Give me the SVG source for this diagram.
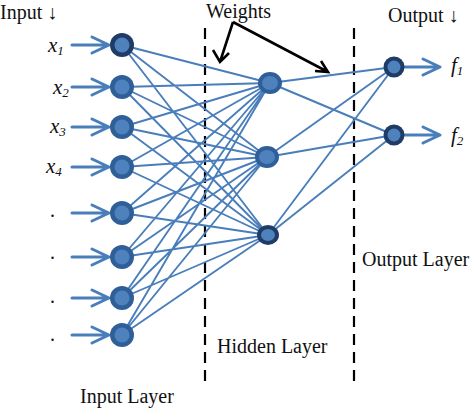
<svg xmlns="http://www.w3.org/2000/svg" width="474" height="408" viewBox="0 0 474 408">
<defs>
<style>
.c{stroke:#4a7ebb;stroke-width:1.9;fill:none}
.a{stroke:#4a7ebb;stroke-width:3;fill:none;stroke-linecap:round;stroke-linejoin:round}
.d{stroke:#000;stroke-width:2.2;stroke-dasharray:11,7;fill:none}
.w{stroke:#000;stroke-width:2.6;fill:none}
text{font-family:'Liberation Serif','Times New Roman','DejaVu Serif',serif;fill:#111}
.t{font-size:20px}
.v{font-size:21px;font-style:italic}
.s{font-size:13px}
.o{fill:#2f5f98}
.od{fill:#1f3c66}
.i{fill:#4f81bd}
</style>
</defs>
<g id="dividers">
<line class="d" x1="205" y1="28" x2="205" y2="386"/>
<line class="d" x1="354" y1="28" x2="354" y2="386"/>
</g>
<g id="connectors">
<path class="c" d="M122,45L270,83M122,45L267,157M122,45L268,235
M122,87L270,83M122,87L267,157M122,87L268,235
M122,127L270,83M122,127L267,157M122,127L268,235
M122,167L270,83M122,167L267,157M122,167L268,235
M122,213L270,83M122,213L267,157M122,213L268,235
M122,257L270,83M122,257L267,157M122,257L268,235
M122,298L270,83M122,298L267,157M122,298L268,235
M122,335L270,83M122,335L267,157M122,335L268,235
M270,83L394,67M270,83L394,135M267,157L394,67M267,157L394,135M268,235L394,67M268,235L394,135"/>
<path class="a" d="M72,45H109M92,37L109,45L92,53
M72,87H109M92,79L109,87L92,95
M72,127H109M92,119L109,127L92,135
M72,167H109M92,159L109,167L92,175
M72,213H109M92,205L109,213L92,221
M72,257H109M92,249L109,257L92,265
M72,298H109M92,290L109,298L92,306
M72,335H109M92,327L109,335L92,343
M404,67H440M423,59L440,67L423,75
M404,135H440M423,127L440,135L423,143"/>
<path class="w" d="M233,22L220,62M213,50L220,62L229,53M233,22L328,72M315,71L328,72L321,61"/>
</g>
<g id="input1"><circle class="od" cx="122" cy="45" r="12"/><circle class="i" cx="122" cy="45" r="7.5"/></g>
<g id="input2"><circle class="o" cx="122" cy="87" r="12"/><circle class="i" cx="122" cy="87" r="7.5"/></g>
<g id="input3"><circle class="o" cx="122" cy="127" r="12"/><circle class="i" cx="122" cy="127" r="7.5"/></g>
<g id="input4"><circle class="o" cx="122" cy="167" r="12"/><circle class="i" cx="122" cy="167" r="7.5"/></g>
<g id="input5"><circle class="o" cx="122" cy="213" r="12"/><circle class="i" cx="122" cy="213" r="7.5"/></g>
<g id="input6"><circle class="o" cx="122" cy="257" r="12"/><circle class="i" cx="122" cy="257" r="7.5"/></g>
<g id="input7"><circle class="o" cx="122" cy="298" r="12"/><circle class="i" cx="122" cy="298" r="7.5"/></g>
<g id="input8"><circle class="o" cx="122" cy="335" r="12"/><circle class="i" cx="122" cy="335" r="7.5"/></g>
<g id="hidden1"><ellipse class="o" cx="270" cy="83" rx="12" ry="11"/><ellipse class="i" cx="270" cy="83" rx="8" ry="7"/></g>
<g id="hidden2"><ellipse class="o" cx="267" cy="157" rx="12" ry="11"/><ellipse class="i" cx="267" cy="157" rx="8" ry="7"/></g>
<g id="hidden3"><ellipse class="od" cx="268" cy="235" rx="11" ry="10"/><ellipse class="i" cx="268" cy="235" rx="7" ry="6"/></g>
<g id="output1"><circle class="od" cx="394" cy="67" r="10.5"/><circle class="i" cx="394" cy="67" r="6.5"/></g>
<g id="output2"><circle class="od" cx="394" cy="135" r="10.5"/><circle class="i" cx="394" cy="135" r="6.5"/></g>
<g id="labels">
<text class="t" x="0" y="19">Input ↓</text>
<text class="t" x="206" y="18" font-size="19">Weights</text>
<text class="t" x="388" y="22">Output ↓</text>
<text class="t" x="80" y="403">Input Layer</text>
<text class="t" x="217" y="353">Hidden Layer</text>
<text class="t" x="362" y="266">Output Layer</text>
<text class="v" x="48" y="52">x<tspan class="s" dy="3">1</tspan></text>
<text class="v" x="53" y="94">x<tspan class="s" dy="3">2</tspan></text>
<text class="v" x="50" y="133">x<tspan class="s" dy="3">3</tspan></text>
<text class="v" x="46" y="173">x<tspan class="s" dy="3">4</tspan></text>
<text class="v" x="451" y="72">f<tspan class="s" dy="3">1</tspan></text>
<text class="v" x="451" y="142">f<tspan class="s" dy="3">2</tspan></text>
<text class="t" x="50" y="217">.</text>
<text class="t" x="50" y="259">.</text>
<text class="t" x="50" y="303">.</text>
<text class="t" x="50" y="341">.</text>
</g>
</svg>
